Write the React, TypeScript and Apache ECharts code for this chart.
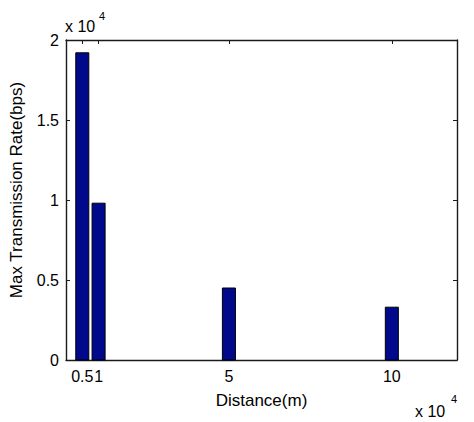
import React, { useEffect, useRef } from "react";
import * as echarts from "echarts";

const distances = [5000, 10000, 50000, 100000];
const rates = [19200, 9800, 4500, 3300];
const xTickValues = [5000, 10000, 50000, 100000];
const xAxisTitle = "Distance(m)";
const yAxisTitle = "Max Transmission Rate(bps)";
const exponentBase = "x 10";
const exponentPower = "4";

const FONT = '"Liberation Sans", Arial, sans-serif';
const BAR_HALF = 2000;

export default function App() {
  const ref = useRef<HTMLDivElement>(null);
  useEffect(() => {
    document.body.style.margin = "0";
    const chart = echarts.init(ref.current!, null, { renderer: "svg" });
    const fmt = (v: number) => String(+(v / 1e4).toFixed(2));
    const lineStyle = { color: "#1a1a1a", width: 1.4 };
    const axisLine = { show: true, onZero: false, lineStyle };
    const tick = { show: true, inside: true, length: 4, lineStyle: { color: "#1a1a1a", width: 1 } };
    chart.setOption({
      animation: false,
      backgroundColor: "#fff",
      grid: { left: 65, top: 40, right: 17, bottom: 62, containLabel: false },
      xAxis: [
        {
          type: "value",
          position: "bottom",
          min: 0,
          max: 120000,
          name: xAxisTitle,
          nameLocation: "middle",
          nameGap: 32,
          nameTextStyle: { fontFamily: FONT, fontSize: 17, color: "#000" },
          axisLine,
          axisTick: { ...tick, customValues: xTickValues },
          axisLabel: {
            customValues: xTickValues,
            formatter: fmt,
            fontFamily: FONT,
            fontSize: 16,
            color: "#000",
            margin: 8,
          },
          splitLine: { show: false },
        },
        {
          type: "value",
          position: "top",
          min: 0,
          max: 120000,
          axisLine,
          axisTick: { ...tick, customValues: xTickValues },
          axisLabel: { show: false },
          splitLine: { show: false },
        },
      ],
      yAxis: [
        {
          type: "value",
          position: "left",
          min: 0,
          max: 20000,
          interval: 5000,
          name: yAxisTitle,
          nameLocation: "middle",
          nameGap: 41,
          nameTextStyle: {
            fontFamily: FONT,
            fontSize: 17,
            color: "#000",
            padding: [0, 0, 0, 20],
          },
          axisLine,
          axisTick: tick,
          axisLabel: { formatter: fmt, fontFamily: FONT, fontSize: 16, color: "#000", margin: 7 },
          splitLine: { show: false },
        },
        {
          type: "value",
          position: "right",
          min: 0,
          max: 20000,
          interval: 5000,
          axisLine,
          axisTick: tick,
          axisLabel: { show: false },
          splitLine: { show: false },
        },
      ],
      series: [
        {
          type: "custom",
          xAxisIndex: 0,
          yAxisIndex: 0,
          encode: { x: 0, y: 1 },
          data: distances.map((d, i) => [d, rates[i]]),
          renderItem: (params: any, api: any) => {
            const x = api.value(0);
            const y = api.value(1);
            const p1 = api.coord([x - BAR_HALF, y]);
            const p2 = api.coord([x + BAR_HALF, 0]);
            return {
              type: "rect",
              shape: { x: p1[0], y: p1[1], width: p2[0] - p1[0], height: p2[1] - p1[1] },
              style: { fill: "#00098c", stroke: "#000", lineWidth: 1 },
            };
          },
        },
      ],
      graphic: [
        {
          type: "text",
          x: 65,
          y: 26,
          style: { text: exponentBase, fontFamily: FONT, fontSize: 16, fill: "#000", align: "left", verticalAlign: "middle" },
        },
        {
          type: "text",
          x: 99,
          y: 16,
          style: { text: exponentPower, fontFamily: FONT, fontSize: 11, fill: "#000", align: "left", verticalAlign: "middle" },
        },
        {
          type: "text",
          x: 415,
          y: 411,
          style: { text: exponentBase, fontFamily: FONT, fontSize: 16, fill: "#000", align: "left", verticalAlign: "middle" },
        },
        {
          type: "text",
          x: 451,
          y: 399,
          style: { text: exponentPower, fontFamily: FONT, fontSize: 11, fill: "#000", align: "left", verticalAlign: "middle" },
        },
      ],
    });
    return () => chart.dispose();
  }, []);
  return <div ref={ref} style={{ width: 474, height: 422 }} />;
}
